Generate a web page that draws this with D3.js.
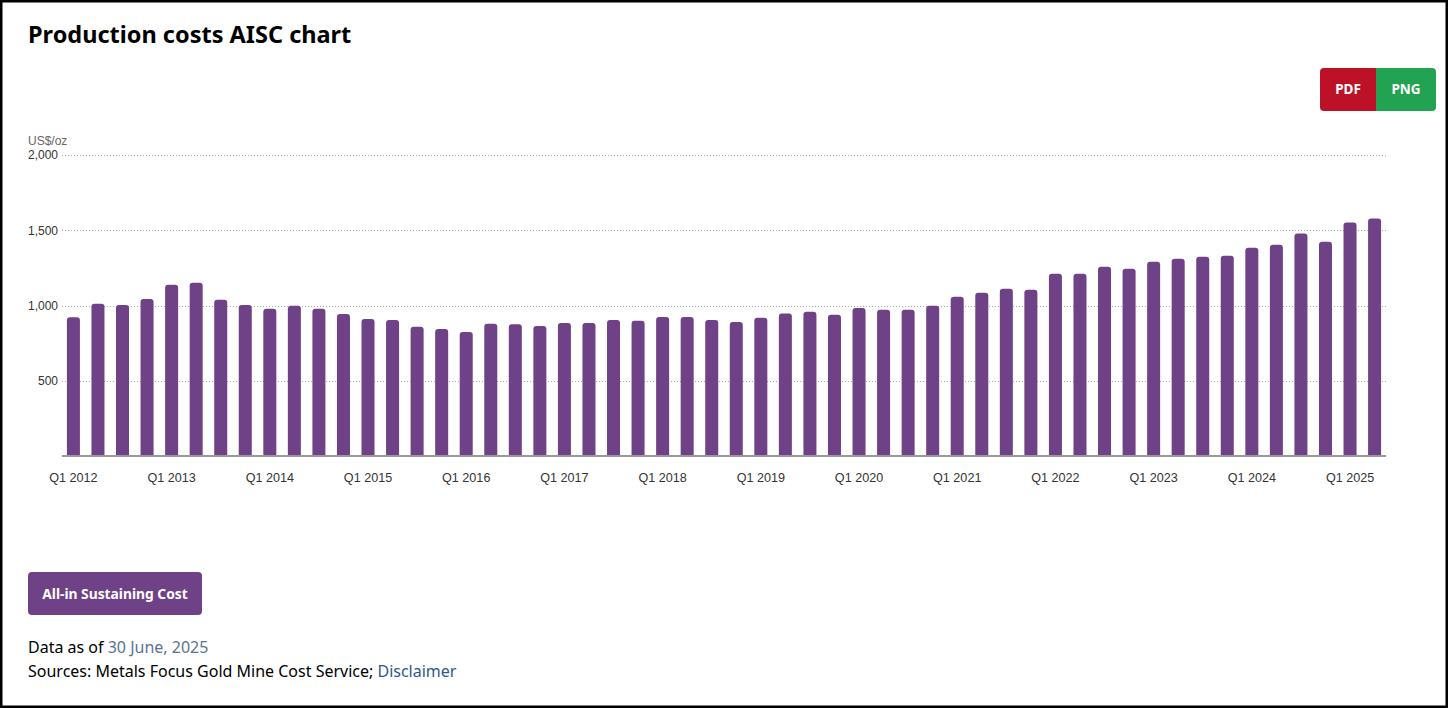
<!DOCTYPE html>
<html>
<head>
<meta charset="utf-8">
<script src="https://cdn.jsdelivr.net/npm/d3@7"></script>
<style>
    html, body { margin: 0; padding: 0; background: #fff; }
    svg { display: block; }
</style>
</head>
<body>
<svg id="chart" width="1448" height="708"></svg>
<script>
    // data
    var years = ['2012', '2013', '2014', '2015', '2016', '2017', '2018', '2019', '2020', '2021', '2022', '2023', '2024', '2025'];
    var quarters = [];
    years.forEach(function(y) {
        ['Q1', 'Q2', 'Q3', 'Q4'].forEach(function(q) {
            if (quarters.length < 54) quarters.push(q + ' ' + y);
        });
    });
    var aisc = [
        922, 1011, 1004, 1044,
        1138, 1151, 1038, 1004,
        978, 998, 978, 944,
        911, 904, 858, 844,
        824, 878, 876, 864,
        884, 884, 904, 898,
        924, 924, 904, 891,
        918, 947, 958, 938,
        984, 971, 971, 998,
        1058, 1084, 1111, 1104,
        1211, 1211, 1258, 1244,
        1291, 1311, 1324, 1331,
        1384, 1404, 1478, 1424,
        1551, 1578
    ];
    var yTicks = [500, 1000, 1500, 2000];
    var seriesName = 'All-in Sustaining Cost';

    var purple = '#6f4287',
        uiFont = '"Noto Sans", "Open Sans", sans-serif',
        axisFont = '"Liberation Sans", Arial, sans-serif';

    var svg = d3.select('#chart');

    // frame
    svg.append('rect')
        .attr('x', 1).attr('y', 1).attr('width', 1446).attr('height', 706)
        .attr('fill', 'none').attr('stroke', '#000').attr('stroke-width', 3);

    svg.append('text')
        .attr('x', 28).attr('y', 43)
        .attr('font-family', uiFont).attr('font-size', 23.5).attr('font-weight', 700)
        .attr('fill', '#000')
        .text('Production costs AISC chart');

    // export buttons
    var btns = svg.append('g');
    btns.append('path')
        .attr('d', 'M1324,68 H1376 V111 H1324 Q1320,111 1320,107 V72 Q1320,68 1324,68 Z')
        .attr('fill', '#bd1128');
    btns.append('path')
        .attr('d', 'M1376,68 H1432 Q1436,68 1436,72 V107 Q1436,111 1432,111 H1376 Z')
        .attr('fill', '#22a352');
    btns.selectAll('text')
        .data([['PDF', 1348], ['PNG', 1406]])
        .enter().append('text')
        .attr('x', function(d) { return d[1]; }).attr('y', 94)
        .attr('text-anchor', 'middle')
        .attr('font-family', uiFont).attr('font-size', 13.5).attr('font-weight', 700)
        .attr('fill', '#fff')
        .text(function(d) { return d[0]; });

    // chart area
    var margin = { left: 62, right: 62, top: 155, bottom: 252 };
    var x = d3.scaleBand()
        .domain(quarters)
        .range([margin.left, 1448 - margin.right])
        .paddingInner(0.47)
        .paddingOuter(0.2);
    var y = d3.scaleLinear()
        .domain([0, 2000])
        .range([456, 155]);

    // grid
    svg.append('g')
        .selectAll('line')
        .data(yTicks)
        .enter().append('line')
        .attr('x1', 62).attr('x2', 1386)
        .attr('y1', function(d) { return Math.round(y(d)) + 0.5; })
        .attr('y2', function(d) { return Math.round(y(d)) + 0.5; })
        .attr('stroke', '#aaa').attr('stroke-width', 1)
        .attr('stroke-dasharray', '1,2');

    var yAxis = svg.append('g')
        .attr('transform', 'translate(58,0)')
        .call(d3.axisLeft(y).tickValues(yTicks).tickSize(0).tickPadding(0).tickFormat(d3.format(',')));
    yAxis.select('.domain').remove();
    yAxis.selectAll('text')
        .attr('font-family', axisFont).attr('font-size', 12).attr('fill', '#333');

    svg.append('text')
        .attr('x', 28).attr('y', 145)
        .attr('font-family', axisFont).attr('font-size', 12).attr('fill', '#666')
        .text('US$/oz');

    // bars with rounded tops
    var r = 3;
    svg.append('g')
        .selectAll('path')
        .data(aisc)
        .enter().append('path')
        .attr('fill', purple)
        .attr('d', function(d, i) {
            var x0 = x(quarters[i]), w = x.bandwidth(), yt = y(d), yb = y(0);
            return 'M' + x0 + ',' + yb +
                'V' + (yt + r) +
                'Q' + x0 + ',' + yt + ' ' + (x0 + r) + ',' + yt +
                'H' + (x0 + w - r) +
                'Q' + (x0 + w) + ',' + yt + ' ' + (x0 + w) + ',' + (yt + r) +
                'V' + yb + 'Z';
        });

    // x axis
    svg.append('line')
        .attr('x1', 62).attr('x2', 1386)
        .attr('y1', 456).attr('y2', 456)
        .attr('stroke', '#999').attr('stroke-width', 2);

    var xAxis = svg.append('g')
        .attr('transform', 'translate(0,470)')
        .call(d3.axisBottom(x)
            .tickValues(quarters.filter(function(q) { return q.indexOf('Q1') === 0; }))
            .tickSize(0).tickPadding(3));
    xAxis.select('.domain').remove();
    xAxis.selectAll('text')
        .attr('font-family', axisFont).attr('font-size', 12.6).attr('fill', '#333');

    // legend button
    svg.append('rect')
        .attr('x', 28).attr('y', 572).attr('width', 174).attr('height', 43).attr('rx', 4)
        .attr('fill', purple);
    svg.append('text')
        .attr('x', 115).attr('y', 599)
        .attr('text-anchor', 'middle')
        .attr('font-family', uiFont).attr('font-size', 13.8).attr('font-weight', 700)
        .attr('fill', '#fff')
        .text(seriesName);

    // footer
    var f1 = svg.append('text')
        .attr('x', 28).attr('y', 653)
        .attr('font-family', uiFont).attr('font-size', 16).attr('fill', '#000');
    f1.append('tspan').text('Data as of ');
    f1.append('tspan').attr('fill', '#5c7290').text('30 June, 2025');

    var f2 = svg.append('text')
        .attr('x', 28).attr('y', 677)
        .attr('font-family', uiFont).attr('font-size', 16).attr('fill', '#000');
    f2.append('tspan').text('Sources: Metals Focus Gold Mine Cost Service; ');
    f2.append('tspan').attr('fill', '#2b5a8a').text('Disclaimer');
</script>
</body>
</html>
